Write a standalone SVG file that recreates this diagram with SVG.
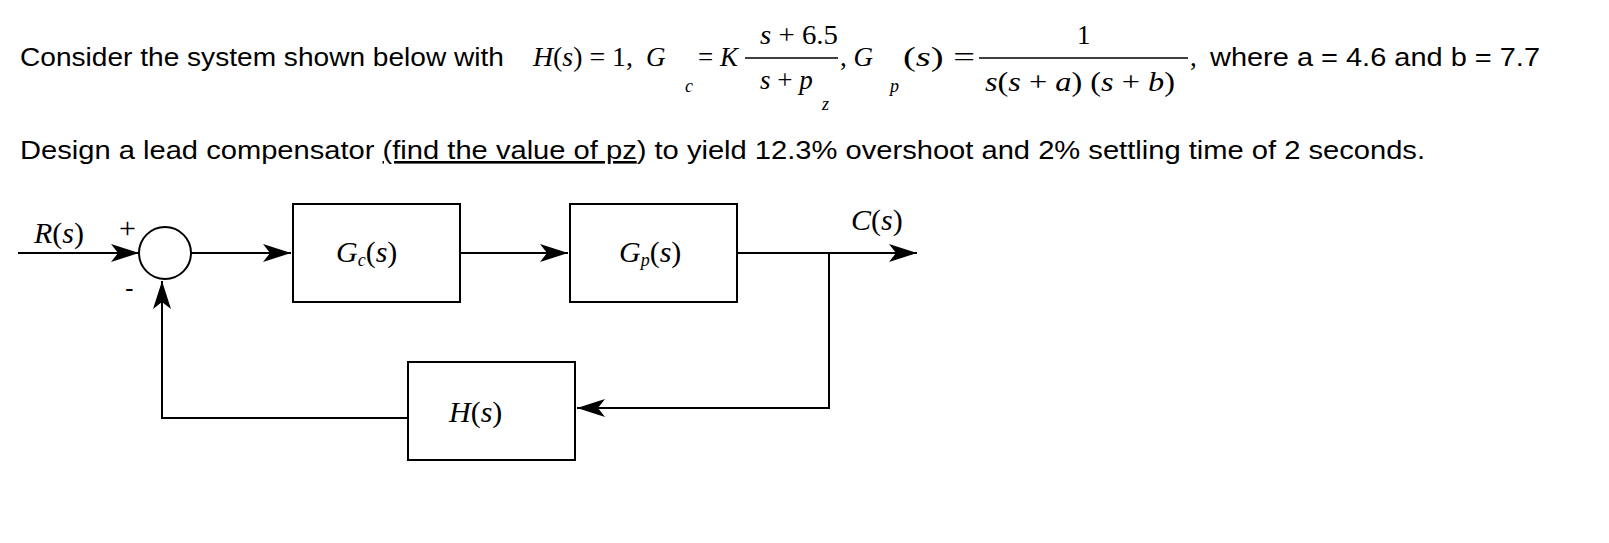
<svg xmlns="http://www.w3.org/2000/svg" width="1609" height="543" viewBox="0 0 1609 543">
<style>
.t{font-family:"Liberation Sans",Arial,sans-serif;font-size:26px;fill:#000}
.m{font-family:"Liberation Serif","Times New Roman",serif;font-size:27px;fill:#000}
.i{font-style:italic}
.s{font-size:18px}
.b{fill:#fff;stroke:#000;stroke-width:2}
.l{fill:none;stroke:#000;stroke-width:2}
.lbl{font-family:"Liberation Serif","Times New Roman",serif;font-size:30px;fill:#000}
</style>
<defs><marker id="a" markerWidth="30" markerHeight="20" refX="28" refY="9" orient="auto" markerUnits="userSpaceOnUse"><path d="M0,0 L28,9 L0,18 L7,9 Z" fill="#000"/></marker></defs>
<rect width="1609" height="543" fill="#fff"/>
<g id="text">
<text class="t" x="20" y="66" textLength="484" lengthAdjust="spacingAndGlyphs">Consider the system shown below with</text>
<text class="m" x="533" y="66" textLength="100" lengthAdjust="spacingAndGlyphs"><tspan class="i">H</tspan>(<tspan class="i">s</tspan>) = 1,</text>
<text class="m i" x="646" y="66">G</text>
<text class="m i s" x="685" y="92">c</text>
<text class="m" x="698" y="66">= <tspan class="i">K</tspan></text>
<line x1="745" y1="58" x2="838" y2="58" stroke="#000" stroke-width="1.3"/>
<text class="m" x="760" y="44" textLength="78" lengthAdjust="spacingAndGlyphs"><tspan class="i">s</tspan> + 6.5</text>
<text class="m" x="760" y="89"><tspan class="i">s</tspan> + <tspan class="i">p</tspan></text>
<text class="m i s" x="822" y="110">z</text>
<text class="m" x="840" y="66">, <tspan class="i">G</tspan></text>
<text class="m i s" x="890" y="92">p</text>
<text class="m" x="903" y="66" textLength="72" lengthAdjust="spacingAndGlyphs">(<tspan class="i">s</tspan>) =</text>
<line x1="979" y1="58" x2="1188" y2="58" stroke="#000" stroke-width="1.3"/>
<text class="m" x="1077" y="44">1</text>
<text class="m" x="985" y="91" textLength="190" lengthAdjust="spacingAndGlyphs"><tspan class="i">s</tspan>(<tspan class="i">s</tspan> + <tspan class="i">a</tspan>) (<tspan class="i">s</tspan> + <tspan class="i">b</tspan>)</text>
<text class="m" x="1190" y="66">,</text>
<text class="t" x="1210" y="66" textLength="330" lengthAdjust="spacingAndGlyphs">where a = 4.6 and b = 7.7</text>
<text class="t" x="20" y="159" textLength="1405" lengthAdjust="spacingAndGlyphs">Design a lead compensator <tspan text-decoration="underline">(find the value of pz</tspan>) to yield 12.3% overshoot and 2% settling time of 2 seconds.</text>
</g>
<g id="connectors">
<line class="l" x1="18" y1="253" x2="139" y2="253" marker-end="url(#a)"/>
<line class="l" x1="191" y1="253" x2="291" y2="253" marker-end="url(#a)"/>
<line class="l" x1="460" y1="253" x2="568" y2="253" marker-end="url(#a)"/>
<line class="l" x1="737" y1="253" x2="917" y2="253" marker-end="url(#a)"/>
<polyline class="l" points="829,253 829,408 577,408" marker-end="url(#a)"/>
<polyline class="l" points="408,418 162,418 162,281" marker-end="url(#a)"/>
</g>
<g id="sum"><circle class="b" cx="165" cy="253" r="26"/>
<text class="lbl" x="119" y="238" font-size="26">+</text><text class="t" x="125" y="297">-</text></g>
<g id="Gc"><rect class="b" x="293" y="204" width="167" height="98"/><text class="lbl" x="336" y="262"><tspan class="i">G</tspan><tspan font-size="18" dy="4" class="i">c</tspan><tspan dy="-4">(</tspan><tspan class="i">s</tspan>)</text></g>
<g id="Gp"><rect class="b" x="570" y="204" width="167" height="98"/><text class="lbl" x="619" y="262"><tspan class="i">G</tspan><tspan font-size="18" dy="4" class="i">p</tspan><tspan dy="-4">(</tspan><tspan class="i">s</tspan>)</text></g>
<g id="H"><rect class="b" x="408" y="362" width="167" height="98"/><text class="lbl" x="449" y="422"><tspan class="i">H</tspan>(<tspan class="i">s</tspan>)</text></g>
<text class="lbl" x="34" y="243"><tspan class="i">R</tspan>(<tspan class="i">s</tspan>)</text>
<text class="lbl" x="851" y="230"><tspan class="i">C</tspan>(<tspan class="i">s</tspan>)</text>
</svg>
